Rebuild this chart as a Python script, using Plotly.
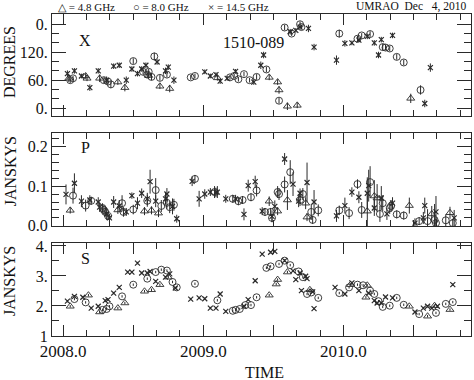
import plotly.graph_objects as go

# ---------------- X panel (polarization angle, degrees) ----------------
X48_t = [2008.04, 2008.16, 2008.17, 2008.26, 2008.39, 2008.44, 2008.61, 2008.69, 2008.76, 2009.10,
         2009.47, 2009.53, 2009.54, 2009.60, 2009.67, 2010.48]
X48_v = [64, 69, 64, 64, 56, 44, 70, 47, 42, 65, 66, 56, 39, 4, 6, 21]
X48_e = [8, 6, 6, 8, 6, 8, 6, 6, 8, 6, 6, 6, 8, 8, 6, 10]

X80_t = [2008.05, 2008.07, 2008.29, 2008.32, 2008.34, 2008.50, 2008.57, 2008.60, 2008.61, 2008.63,
         2008.65, 2008.69, 2008.74, 2008.91, 2008.94, 2009.19, 2009.22, 2009.25, 2009.29, 2009.33,
         2009.38, 2009.45, 2009.54, 2009.58, 2009.63, 2009.69, 2009.70, 2009.97, 2010.10, 2010.13,
         2010.19, 2010.28, 2010.30, 2010.33, 2010.38, 2010.43, 2010.55]
X80_v = [60, 64, 60, 57, 51, 101, 78, 72, 78, 67, 111, 65, 72, 66, 69, 66, 69, 62, 73, 60,
         67, 83, 16, 173, 160, 180, 174, 160, 149, 156, 159, 131, 130, 128, 110, 98, 39]
X80_e = [6, 5, 6, 6, 8, 6, 6, 7, 6, 7, 8, 6, 6, 5, 5, 5, 5, 5, 5, 5,
         6, 6, 6, 6, 5, 6, 5, 8, 6, 5, 6, 7, 6, 6, 6, 6, 10]

X145_t = [2008.03, 2008.08, 2008.13, 2008.19, 2008.25, 2008.31, 2008.36, 2008.40, 2008.45, 2008.49,
          2008.53, 2008.56, 2008.59, 2008.67, 2008.73, 2008.75, 2008.79, 2009.01, 2009.05, 2009.09,
          2009.12, 2009.17, 2009.23, 2009.36, 2009.41, 2009.43, 2009.62, 2009.66, 2009.69, 2009.75,
          2009.79, 2009.95, 2010.01, 2010.06, 2010.11, 2010.17, 2010.22, 2010.25, 2010.27, 2010.35,
          2010.58, 2010.62]
X145_v = [74, 80, 69, 44, 80, 60, 90, 92, 60, 84, 74, 84, 92, 99, 80, 88, 60, 78, 69, 72,
          58, 64, 79, 56, 92, 114, 164, 167, 174, 171, 131, 103, 139, 140, 146, 154, 140, 114, 147, 156,
          10, 87]
X145_e = [7, 6, 5, 7, 6, 8, 6, 6, 8, 6, 6, 6, 6, 6, 7, 6, 8, 5, 5, 5,
          6, 5, 5, 6, 8, 7, 6, 5, 6, 8, 7, 10, 7, 5, 5, 6, 6, 7, 6, 6, 8, 9]

# ---------------- P panel (polarized flux, Jy) ----------------
P48_t = [2008.05, 2008.39, 2008.58, 2008.63, 2008.68, 2009.47, 2009.53, 2009.60, 2009.73, 2009.74,
         2010.17, 2010.22, 2010.24, 2010.47, 2010.63, 2010.76]
P48_v = [0.039, 0.040, 0.037, 0.039, 0.032, 0.062, 0.037, 0.065, 0.057, 0.022,
         0.037, 0.075, 0.070, 0.051, 0.030, 0.033]
P48_e = [0.008, 0.010, 0.010, 0.010, 0.010, 0.012, 0.010, 0.025, 0.015, 0.010,
         0.040, 0.040, 0.035, 0.020, 0.020, 0.015]

P80_t = [2008.07, 2008.16, 2008.20, 2008.28, 2008.29, 2008.30, 2008.32, 2008.42, 2008.43, 2008.50,
         2008.60, 2008.66, 2008.70, 2008.74, 2008.76, 2008.79, 2008.94, 2009.08, 2009.21, 2009.25,
         2009.28, 2009.34, 2009.38, 2009.44, 2009.48, 2009.49, 2009.53, 2009.54, 2009.58, 2009.62,
         2009.69, 2009.71, 2009.77, 2009.78, 2009.82, 2009.97, 2010.04, 2010.10, 2010.13, 2010.19,
         2010.26, 2010.28, 2010.33, 2010.34, 2010.38, 2010.43, 2010.54, 2010.60, 2010.65, 2010.66,
         2010.73, 2010.78]
P80_v = [0.076, 0.051, 0.063, 0.045, 0.040, 0.035, 0.025, 0.057, 0.035, 0.041,
         0.063, 0.090, 0.050, 0.058, 0.047, 0.053, 0.118, 0.085, 0.068, 0.062,
         0.065, 0.072, 0.089, 0.035, 0.035, 0.020, 0.085, 0.080, 0.104, 0.135,
         0.065, 0.080, 0.035, 0.015, 0.039, 0.039, 0.032, 0.105, 0.040, 0.110,
         0.030, 0.057, 0.045, 0.050, 0.029, 0.026, 0.012, 0.012, 0.015, 0.007,
         0.014, 0.007]
P80_e = [0.020, 0.015, 0.010, 0.012, 0.012, 0.012, 0.010, 0.020, 0.012, 0.012,
         0.015, 0.030, 0.015, 0.015, 0.015, 0.015, 0.010, 0.015, 0.010, 0.010,
         0.010, 0.010, 0.015, 0.010, 0.010, 0.010, 0.015, 0.015, 0.020, 0.030,
         0.015, 0.015, 0.020, 0.010, 0.015, 0.012, 0.015, 0.012, 0.020, 0.040,
         0.020, 0.020, 0.015, 0.015, 0.010, 0.010, 0.010, 0.030, 0.040, 0.015,
         0.015, 0.010]

P145_t = [2008.02, 2008.08, 2008.13, 2008.19, 2008.25, 2008.26, 2008.31, 2008.33, 2008.36, 2008.40,
          2008.45, 2008.49, 2008.53, 2008.56, 2008.60, 2008.62, 2008.66, 2008.73, 2008.74, 2008.78,
          2008.81, 2008.92, 2008.97, 2009.01, 2009.05, 2009.09, 2009.10, 2009.16, 2009.23, 2009.29,
          2009.32, 2009.37, 2009.42, 2009.49, 2009.51, 2009.58, 2009.64, 2009.68, 2009.69, 2009.74,
          2009.79, 2009.95, 2010.01, 2010.06, 2010.11, 2010.17, 2010.18, 2010.22, 2010.27, 2010.31,
          2010.35, 2010.51, 2010.57, 2010.58, 2010.66, 2010.79]
P145_v = [0.079, 0.107, 0.062, 0.065, 0.060, 0.047, 0.030, 0.020, 0.060, 0.050,
          0.035, 0.076, 0.057, 0.082, 0.068, 0.111, 0.062, 0.068, 0.080, 0.049,
          0.018, 0.112, 0.068, 0.080, 0.085, 0.084, 0.085, 0.068, 0.068, 0.029,
          0.101, 0.111, 0.037, 0.024, 0.049, 0.168, 0.105, 0.062, 0.082, 0.109,
          0.060, 0.025, 0.051, 0.085, 0.072, 0.082, 0.101, 0.045, 0.070, 0.030,
          0.057, 0.007, 0.020, 0.051, 0.035, 0.020]
P145_e = [0.025, 0.025, 0.015, 0.012, 0.012, 0.012, 0.015, 0.010, 0.015, 0.015,
          0.010, 0.008, 0.015, 0.012, 0.015, 0.030, 0.015, 0.015, 0.015, 0.020,
          0.010, 0.012, 0.020, 0.012, 0.010, 0.012, 0.015, 0.010, 0.010, 0.015,
          0.015, 0.015, 0.010, 0.015, 0.015, 0.015, 0.030, 0.015, 0.012, 0.050,
          0.030, 0.015, 0.020, 0.012, 0.015, 0.040, 0.040, 0.020, 0.030, 0.015,
          0.015, 0.012, 0.015, 0.020, 0.040, 0.020]

# ---------------- S panel (total flux, Jy) ----------------
S48_t = [2008.05, 2008.18, 2008.26, 2008.39, 2008.44, 2008.58, 2008.63, 2008.69, 2008.75, 2009.47,
         2009.52, 2009.53, 2009.60, 2009.76, 2010.05, 2010.16, 2010.17, 2010.47, 2010.60, 2010.65,
         2010.76]
S48_v = [1.99, 2.36, 1.80, 1.93, 2.10, 2.49, 2.54, 2.71, 2.96, 2.36,
         2.73, 2.88, 3.13, 2.54, 2.71, 2.29, 2.69, 1.99, 1.66, 2.01, 1.88]

S80_t = [2008.08, 2008.16, 2008.28, 2008.31, 2008.33, 2008.42, 2008.50, 2008.60, 2008.66, 2008.70,
         2008.74, 2008.78, 2008.81, 2008.94, 2009.10, 2009.21, 2009.23, 2009.26, 2009.30, 2009.34,
         2009.38, 2009.45, 2009.48, 2009.54, 2009.58, 2009.62, 2009.68, 2009.71, 2009.74, 2009.77,
         2009.82, 2009.97, 2010.04, 2010.10, 2010.14, 2010.19, 2010.22, 2010.25, 2010.28, 2010.33,
         2010.38, 2010.43, 2010.54, 2010.66, 2010.73, 2010.78]
S80_v = [2.23, 2.12, 1.87, 1.90, 1.99, 2.32, 2.71, 2.91, 3.13, 3.21,
         3.18, 2.80, 2.62, 2.74, 2.19, 1.84, 1.87, 1.90, 2.03, 2.03,
         2.29, 3.27, 3.32, 3.40, 3.51, 3.36, 3.15, 2.96, 2.40, 2.45,
         2.27, 2.43, 2.62, 2.71, 2.69, 2.51, 2.40, 2.16, 1.97, 2.01,
         2.27, 2.04, 1.73, 1.77, 2.07, 2.13]

S145_t = [2008.03, 2008.08, 2008.14, 2008.20, 2008.25, 2008.30, 2008.32, 2008.36, 2008.40, 2008.46,
          2008.49, 2008.53, 2008.56, 2008.60, 2008.62, 2008.66, 2008.73, 2008.76, 2008.80, 2008.91,
          2008.97, 2009.01, 2009.05, 2009.09, 2009.12, 2009.16, 2009.29, 2009.32, 2009.37, 2009.42,
          2009.48, 2009.51, 2009.58, 2009.64, 2009.66, 2009.69, 2009.70, 2009.73, 2009.74, 2009.78,
          2009.79, 2009.94, 2010.01, 2010.06, 2010.11, 2010.18, 2010.22, 2010.24, 2010.27, 2010.30,
          2010.35, 2010.51, 2010.57, 2010.60, 2010.63, 2010.67, 2010.78]
S145_v = [2.16, 2.32, 2.29, 1.93, 1.99, 2.18, 2.21, 2.43, 2.62, 3.13,
          3.13, 3.43, 3.10, 3.10, 3.15, 2.82, 2.96, 3.07, 2.60, 2.23,
          2.27, 2.24, 1.93, 1.93, 2.40, 1.82, 1.99, 2.21, 2.84, 3.73,
          3.79, 3.82, 3.51, 3.17, 2.88, 3.10, 2.51, 2.99, 2.91, 2.47,
          1.91, 2.62, 2.40, 2.77, 2.51, 2.43, 2.18, 2.10, 2.10, 2.30,
          2.27, 1.80, 1.93, 1.99, 1.93, 1.99, 2.71]
S_ERR = 0.04

# ---------------- axis tick labels / legend text ----------------
X_TICKS = [2008.0, 2008.5, 2009.0, 2009.5, 2010.0, 2010.5]
X_TICKTEXT = ["2008.0", "", "2009.0", "", "2010.0", ""]
DEG_TICKS = [0, 60, 120, 180]
DEG_TICKTEXT = ["0.", "60.", "120.", "0."]
P_TICKS = [0.0, 0.1, 0.2]
P_TICKTEXT = ["0.0", "0.1", "0.2"]
S_TICKS = [1, 2, 3, 4]
S_TICKTEXT = ["1", "2.", "3.", "4."]
LEGEND_TEXT = ["\u25b3 = 4.8 GHz", "\u25cb = 8.0 GHz", "\u00d7 = 14.5 GHz"]

FONT = "Liberation Serif"
INK = "#2a2a2a"

fig = go.Figure()

def add_series(t, v, e, symbol, size, xa, ya, lw=1.0):
    err = dict(type="data", array=e, visible=True, color=INK, thickness=1, width=0) if isinstance(e, list) \
        else dict(type="constant", value=e, visible=True, color=INK, thickness=1, width=0)
    fig.add_trace(go.Scatter(
        x=t, y=v, mode="markers", xaxis=xa, yaxis=ya, showlegend=False,
        marker=dict(symbol=symbol, size=size, color=INK,
                    line=dict(color=INK, width=lw)),
        error_y=err))

# top: X
add_series(X48_t, X48_v, X48_e, "triangle-up-open", 7, "x", "y", 0.9)
add_series(X80_t, X80_v, X80_e, "circle-open", 7, "x", "y", 0.9)
add_series(X145_t, X145_v, X145_e, "x-thin", 5, "x", "y", 1.2)
# middle: P
add_series(P48_t, P48_v, P48_e, "triangle-up-open", 7, "x2", "y2", 0.9)
add_series(P80_t, P80_v, P80_e, "circle-open", 7, "x2", "y2", 0.9)
add_series(P145_t, P145_v, P145_e, "x-thin", 5, "x2", "y2", 1.2)
# bottom: S
add_series(S48_t, S48_v, S_ERR, "triangle-up-open", 7, "x3", "y3", 0.9)
add_series(S80_t, S80_v, S_ERR, "circle-open", 7, "x3", "y3", 0.9)
add_series(S145_t, S145_v, S_ERR, "x-thin", 5, "x3", "y3", 1.2)

XR = [2007.92, 2010.91]

def xaxis(labels, anchor):
    return dict(domain=[0, 1], range=XR, anchor=anchor, tickmode="array",
                tickvals=X_TICKS, ticktext=X_TICKTEXT, showticklabels=labels,
                ticks="inside", ticklen=11, tickwidth=1, tickcolor=INK,
                minor=dict(dtick=1/6, tick0=2008.0, ticks="inside", ticklen=6, tickcolor=INK, showgrid=False),
                showline=True, linecolor=INK, linewidth=1, mirror="allticks",
                showgrid=False, zeroline=False,
                tickfont=dict(family=FONT, size=17, color="#111"))

def yaxis(dom, rng, tv, tt, minor_dt, anchor):
    return dict(domain=dom, range=rng, anchor=anchor, tickmode="array",
                tickvals=tv, ticktext=tt, ticks="inside", ticklen=14, tickwidth=1, tickcolor=INK,
                minor=dict(dtick=minor_dt, tick0=0, ticks="inside", ticklen=7, tickcolor=INK, showgrid=False),
                showline=True, linecolor=INK, linewidth=1, mirror="allticks",
                showgrid=False, zeroline=False,
                tickfont=dict(family=FONT, size=16, color="#111"))

fig.update_layout(
    width=474, height=380,
    margin=dict(l=52, r=3, t=14, b=44),
    paper_bgcolor="white", plot_bgcolor="white",
    xaxis=xaxis(False, "y"),
    xaxis2=xaxis(False, "y2"),
    xaxis3=xaxis(True, "y3"),
    yaxis=yaxis([0.683, 1.0], [-17, 202], DEG_TICKS, DEG_TICKTEXT, 20, "x"),
    yaxis2=yaxis([0.342, 0.630], [0, 0.233], P_TICKS, P_TICKTEXT, 0.02, "x2"),
    yaxis3=yaxis([0.0, 0.289], [1.0, 4.1], S_TICKS, S_TICKTEXT, 0.5, "x3"),
)

def ann(text, x, y, size, xanchor="center", angle=0):
    fig.add_annotation(text=text, x=x, y=y, xref="paper", yref="paper", showarrow=False,
                       xanchor=xanchor, yanchor="middle", textangle=angle,
                       font=dict(family=FONT, size=size, color="#111"))

for txt, px in zip(LEGEND_TEXT, [56, 131, 206]):
    ann(txt, (px - 52) / 419, 1.022, 11, "left")
ann("UMRAO \u00a0Dec \u00a0 4, 2010", 0.994, 1.022, 11.5, "right")
ann("X", 0.079, 0.919, 16)
ann("1510-089", 0.48, 0.913, 16)
ann("P", 0.079, 0.584, 16)
ann("S", 0.079, 0.242, 16)
ann("DEGREES", -0.10, 0.851, 16, angle=-90)
ann("JANSKYS", -0.10, 0.512, 16, angle=-90)
ann("JANSKYS", -0.10, 0.171, 16, angle=-90)
ann("TIME", 0.508, -0.112, 16)

fig.write_html("out.html", config={"displayModeBar": False},
               post_script="document.body.style.margin='0px';document.body.style.overflow='hidden';")
